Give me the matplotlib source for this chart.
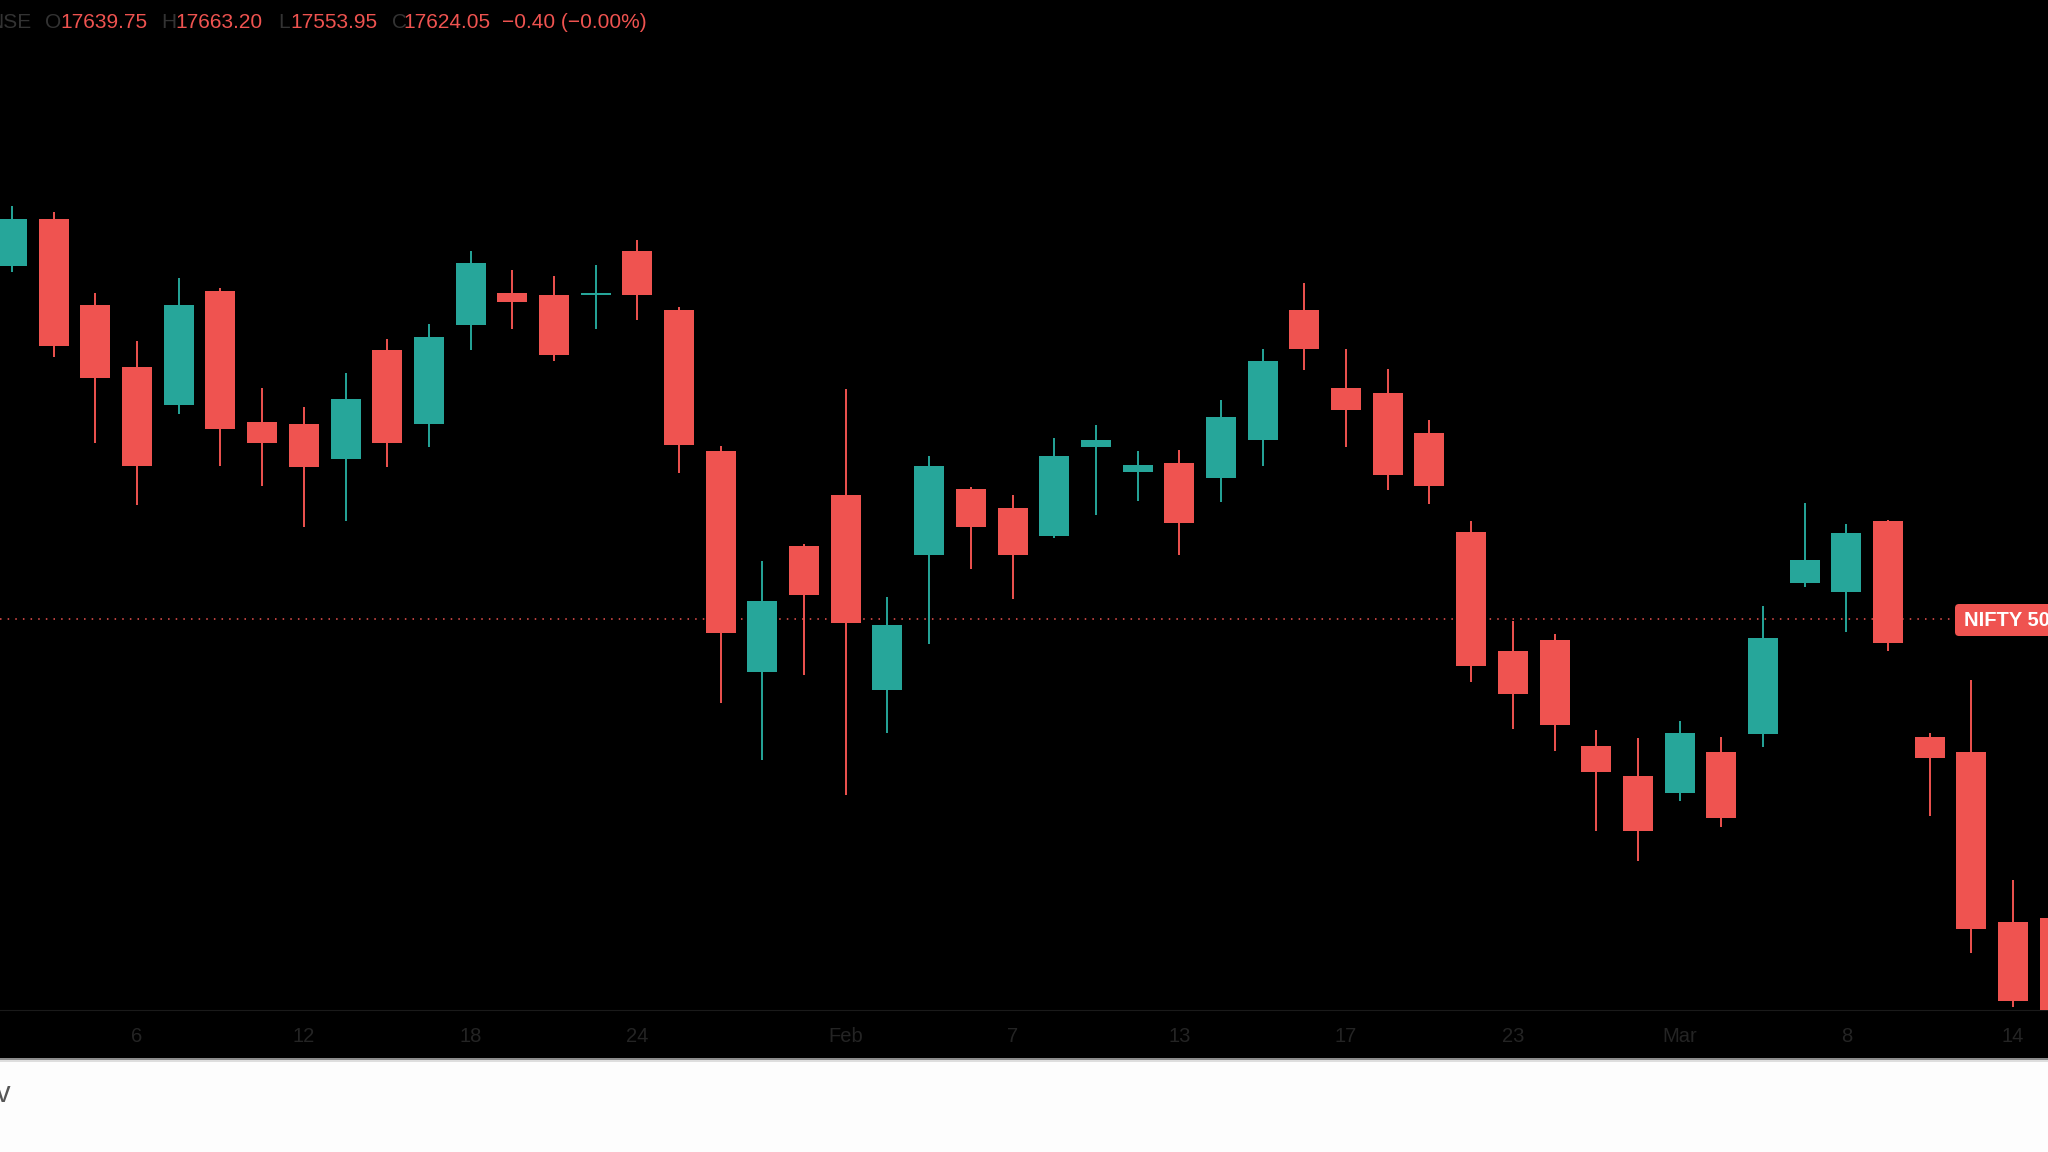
import matplotlib
matplotlib.use("Agg")
import matplotlib.pyplot as plt
from matplotlib.patches import Rectangle, FancyBboxPatch
from matplotlib.transforms import IdentityTransform
import numpy as np

# ---------------- data ----------------
dates = (
    ["2023-01-%02d" % d for d in [3, 4, 5, 6, 9, 10, 11, 12, 13, 16, 17, 18, 19, 20, 23, 24, 25, 27, 30, 31]]
    + ["2023-02-%02d" % d for d in [1, 2, 3, 6, 7, 8, 9, 10, 13, 14, 15, 16, 17, 20, 21, 22, 23, 24, 27, 28]]
    + ["2023-03-%02d" % d for d in [1, 2, 3, 6, 8, 9, 10, 13, 14, 15]]
)

opens = [18162.3, 18233.9, 18103.8, 18008.8, 17951.3, 18124.2, 17925.0, 17921.9, 17868.1, 18034.7,
         17922.4, 18072.4, 18121.2, 18118.1, 18119.9, 18185.2, 18095.7, 17880.0, 17543.7, 17736.0,
         17814.2, 17516.9, 17721.5, 17822.4, 17793.1, 17750.6, 17886.4, 17849.2, 17862.0, 17839.7,
         17898.1, 18096.3, 17977.3, 17968.7, 17907.7, 17757.3, 17575.4, 17593.1, 17431.1, 17385.8,
         17359.0, 17422.4, 17448.9, 17680.0, 17665.8, 17774.5, 17445.3, 17422.4, 17162.8, 17168.4]
highs = [18254.2, 18245.1, 18121.2, 18048.9, 18144.0, 18129.7, 17976.8, 17947.9, 17999.7, 18051.9,
         18074.4, 18185.2, 18156.7, 18147.1, 18164.3, 18202.4, 18100.7, 17888.4, 17712.8, 17738.4,
         17975.0, 17657.9, 17873.6, 17825.3, 17814.2, 17900.4, 17920.2, 17880.6, 17882.9, 17958.2,
         18035.6, 18136.6, 18035.6, 18005.8, 17928.0, 17774.5, 17621.6, 17601.3, 17455.0, 17443.7,
         17469.2, 17445.3, 17644.5, 17801.0, 17769.9, 17776.0, 17451.3, 17531.7, 17226.8, 17210.0]
lows = [18154.1, 18023.6, 17893.4, 17798.9, 17936.7, 17858.4, 17827.9, 17764.4, 17774.5, 17856.8,
        17887.3, 18035.2, 18067.2, 18017.5, 18067.2, 18080.9, 17847.2, 17497.1, 17410.2, 17539.6,
        17355.9, 17450.4, 17586.3, 17701.6, 17655.6, 17747.7, 17782.7, 17804.8, 17721.5, 17802.6,
        17857.9, 18004.8, 17887.3, 17821.3, 17800.4, 17529.1, 17457.4, 17423.4, 17301.5, 17256.2,
        17347.7, 17307.1, 17429.1, 17673.9, 17604.4, 17575.4, 17324.8, 17115.0, 17033.7, 16940.0]
closes = [18233.9, 18041.3, 17991.6, 17858.4, 18103.8, 17914.3, 17893.4, 17856.8, 17959.6, 17893.4,
          18055.0, 18167.3, 18107.4, 18026.7, 18120.1, 18118.6, 17890.4, 17603.8, 17652.1, 17661.4,
          17618.3, 17614.8, 17857.3, 17765.2, 17721.5, 17873.6, 17897.5, 17859.1, 17771.0, 17932.0,
          18018.3, 18036.2, 17943.3, 17844.2, 17827.4, 17553.5, 17509.9, 17463.1, 17391.0, 17301.5,
          17451.3, 17321.8, 17596.2, 17714.6, 17755.3, 17587.6, 17412.3, 17151.6, 17042.8, 16975.0]

tick_dates = ["2023-01-06", "2023-01-12", "2023-01-18", "2023-01-24", "2023-02-01", "2023-02-07",
              "2023-02-13", "2023-02-17", "2023-02-23", "2023-03-01", "2023-03-08", "2023-03-14"]
tick_labels = ["6", "12", "18", "24", "Feb", "7", "13", "17", "23", "Mar", "8", "14"]

symbol = "NIFTY 50"
exchange = "NSE"
hdr_open, hdr_high, hdr_low, hdr_close = 17639.75, 17663.20, 17553.95, 17624.05
hdr_change = "\u22120.40 (\u22120.00%)"
last_price = 17624.05

# ---------------- style ----------------
W, H = 2048, 1152
UP = "#26a69a"
DOWN = "#ef5350"
FONT = ["Liberation Sans", "DejaVu Sans"]
plt.rcParams["font.family"] = FONT

fig = plt.figure(figsize=(W / 100, H / 100), dpi=100)
fig.patch.set_facecolor("#fdfdfd")

def fy(y):  # pixel-from-top -> figure fraction
    return 1 - y / H

# black chart area (pane + time axis)
fig.add_artist(Rectangle((0, fy(1058)), 1, 1058 / H, transform=fig.transFigure,
                         facecolor="#000000", edgecolor="none", zorder=0))
fig.add_artist(Rectangle((0, fy(1060)), 1, 2 / H, transform=fig.transFigure,
                         facecolor="#8c8c8c", edgecolor="none", zorder=0))
fig.add_artist(Rectangle((0, fy(1062)), 1, 2 / H, transform=fig.transFigure,
                         facecolor="#dedede", edgecolor="none", zorder=0))

pane_bottom_px = 1010
ax = fig.add_axes([0, fy(pane_bottom_px), 1, pane_bottom_px / H])
ax.set_facecolor("#000000")
for s in ["top", "left", "right"]:
    ax.spines[s].set_visible(False)
ax.spines["bottom"].set_color("#1a1a1a")
ax.spines["bottom"].set_linewidth(0.8)

o = np.array(opens); h = np.array(highs); l = np.array(lows); c = np.array(closes)
x = np.arange(len(o))
up = c >= o
cols = np.where(up, UP, DOWN)

ax.vlines(x, l, h, colors=cols, linewidth=1.4, zorder=3)
body_lo = np.minimum(o, c)
body_h = np.abs(c - o)
min_h = 3.0
adj = np.where(body_h < min_h, (min_h - body_h) / 2, 0)
ax.bar(x, np.maximum(body_h, min_h), width=0.72, bottom=body_lo - adj, color=cols,
       linewidth=0, zorder=4)

# last price dotted line
ax.axhline(last_price, xmin=0, xmax=1953 / W, color=DOWN, linewidth=1.1,
           linestyle=(0, (1, 4)), zorder=2)

ax.set_xlim(-12 / 41.69, (W - 12) / 41.69)
ax.set_ylim(17028.6, 18568.2)
ax.set_yticks([])
tick_pos = [dates.index(d) for d in tick_dates]
ax.set_xticks(tick_pos, tick_labels)
ax.tick_params(axis="x", length=0, pad=12, labelsize=14.5, labelcolor="#242424")

# price label on the right
lab_top, lab_bot = 604, 636
fig.add_artist(FancyBboxPatch((1955, H - lab_bot), 120, lab_bot - lab_top,
                              boxstyle="round,pad=0,rounding_size=4",
                              transform=IdentityTransform(), facecolor=DOWN,
                              edgecolor="none", zorder=5))
fig.text(1964 / W, fy(620), symbol, color="white", fontsize=14.5, fontweight="bold",
         ha="left", va="center", zorder=6)

# header
hy = fy(23)
grey = "#333333"
fs = 15
fig.text(31 / W, hy, exchange, color=grey, fontsize=fs, ha="right", va="center")
parts = [("O", 45, grey), ("%.2f" % hdr_open, 60, DOWN),
         ("H", 161, grey), ("%.2f" % hdr_high, 175, DOWN),
         ("L", 278, grey), ("%.2f" % hdr_low, 290, DOWN),
         ("C", 392, grey), ("%.2f" % hdr_close, 403, DOWN),
         (hdr_change, 502, DOWN)]
for txt, px, col in parts:
    fig.text(px / W, hy, txt, color=col, fontsize=fs, ha="left", va="center")

# cropped caption at bottom-left
fig.text(11 / W, fy(1094), "v", color="#555555", fontsize=21, ha="right", va="center")

fig.savefig("out.png", dpi=100, facecolor=fig.get_facecolor())
